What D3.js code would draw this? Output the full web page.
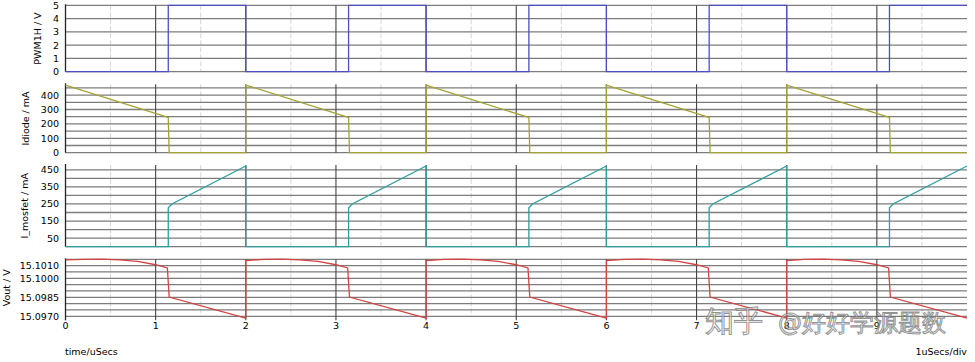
<!DOCTYPE html>
<html>
<head>
<meta charset="utf-8">
<script src="https://cdn.jsdelivr.net/npm/d3@7"></script>
<style>
  body { margin: 0; background: #fff; }
  text { font-family: "DejaVu Sans", sans-serif; fill: #000; }
</style>
</head>
<body>
<div id="chart"></div>
<script>
// time axis, uSecs
const timeTicks = [0, 1, 2, 3, 4, 5, 6, 7, 8, 9]

// PWM1H gate signal (V)
const pwmTime = [0, 1.14, 1.14, 2.0, 2.0, 3.14, 3.14, 4.0, 4.0, 5.14, 5.14, 6.0, 6.0, 7.14, 7.14, 8.0, 8.0, 9.14, 9.14, 10.0]
const pwmVolts = [0, 0, 5, 5, 0, 0, 5, 5, 0, 0, 5, 5, 0, 0, 5, 5, 0, 0, 5, 5]

// diode current (mA)
const diodeTime = [0, 1.12, 1.14, 1.15, 2.0, 2.0, 3.12, 3.14, 3.15, 4.0, 4.0, 5.12, 5.14, 5.15, 6.0, 6.0, 7.12, 7.14, 7.15, 8.0, 8.0, 9.12, 9.14, 9.15, 10.0]
const diodeCurrent = [470, 248, 244, 0, 0, 470, 248, 244, 0, 0, 470, 248, 244, 0, 0, 470, 248, 244, 0, 0, 470, 248, 244, 0, 0]

// mosfet current (mA)
const mosfetTime = [0, 1.14, 1.14, 1.18, 2.0, 2.0, 3.14, 3.14, 3.18, 4.0, 4.0, 5.14, 5.14, 5.18, 6.0, 6.0, 7.14, 7.14, 7.18, 8.0, 8.0, 9.14, 9.14, 9.18, 10.0]
const mosfetCurrent = [0, 0, 228, 250, 472, 0, 0, 228, 250, 472, 0, 0, 228, 250, 472, 0, 0, 228, 250, 472, 0, 0, 228, 250, 472]

// output voltage (V)
const voutTime = [0, 0.2, 0.4, 0.6, 0.8, 1.0, 1.13, 1.15, 2.0,
  2.0, 2.2, 2.4, 2.6, 2.8, 3.0, 3.13, 3.15, 4.0,
  4.0, 4.2, 4.4, 4.6, 4.8, 5.0, 5.13, 5.15, 6.0,
  6.0, 6.2, 6.4, 6.6, 6.8, 7.0, 7.13, 7.15, 8.0,
  8.0, 8.2, 8.4, 8.6, 8.8, 9.0, 9.13, 9.15, 10.0]
const voutVolts = [15.10145, 15.10150, 15.10151, 15.10146, 15.10133, 15.10107, 15.10082, 15.09852, 15.09686,
  15.10140, 15.10150, 15.10151, 15.10146, 15.10133, 15.10107, 15.10082, 15.09852, 15.09686,
  15.10140, 15.10150, 15.10151, 15.10146, 15.10133, 15.10107, 15.10082, 15.09852, 15.09686,
  15.10140, 15.10150, 15.10151, 15.10146, 15.10133, 15.10107, 15.10082, 15.09852, 15.09686,
  15.10140, 15.10150, 15.10151, 15.10146, 15.10133, 15.10107, 15.10082, 15.09852, 15.09686]

const pwmTicks = [0, 1, 2, 3, 4, 5]
const diodeTicks = [0, 100, 200, 300, 400]
const mosfetTicks = [50, 150, 250, 350, 450]
const voutTicks = [15.0970, 15.0985, 15.1000, 15.1010]

const width = 975
const height = 362

const svg = d3.select("#chart").append("svg")
  .attr("width", width)
  .attr("height", height)

const x = d3.scaleLinear().domain([0, 10]).range([65.5, 967])

const panels = [
  { title: "PWM1H / V", t: pwmTime, v: pwmVolts, ticks: pwmTicks, grid: d3.range(0, 5.01, 1),
    domain: [0, 5], range: [71.7, 5.3], color: "#4f4fc4", fmt: d => d, titleX: 38 },
  { title: "Idiode / mA", t: diodeTime, v: diodeCurrent, ticks: diodeTicks, grid: d3.range(0, 451, 50),
    domain: [0, 475], range: [152.7, 84.3], color: "#a3a335", fmt: d => d, titleX: 26 },
  { title: "I_mosfet / mA", t: mosfetTime, v: mosfetCurrent, ticks: mosfetTicks, grid: d3.range(0, 451, 50),
    domain: [0, 478], range: [246.7, 165], color: "#2e9e9e", fmt: d => d, titleX: 25 },
  { title: "Vout / V", t: voutTime, v: voutVolts, ticks: voutTicks, grid: d3.range(15.0970, 15.10151, 0.0005),
    domain: [15.0970, 15.1015], range: [316.3, 259.3], color: "#d24444", fmt: d3.format(".4f"), titleX: 7 }
]

panels.forEach((p, i) => {
  const y = d3.scaleLinear().domain(p.domain).range(p.range)
  const g = svg.append("g")
  const top = p.range[1], bottom = p.range[0]
  const last = i === panels.length - 1

  // minor vertical grid at half divisions
  g.selectAll(".minor")
    .data(d3.range(0.5, 10, 1))
    .join("line")
    .attr("x1", d => x(d)).attr("x2", d => x(d))
    .attr("y1", top).attr("y2", bottom)
    .attr("stroke", "#d6d6d6")
    .style("stroke-dasharray", "5,2")

  // horizontal grid
  g.selectAll(".hgrid")
    .data(p.grid)
    .join("line")
    .attr("x1", x(0)).attr("x2", x(10))
    .attr("y1", d => y(d)).attr("y2", d => y(d))
    .attr("stroke", "#7d7d7d")
    .attr("stroke-width", 1.3)

  // major vertical grid at each division
  g.selectAll(".major")
    .data(d3.range(1, 10, 1))
    .join("line")
    .attr("x1", d => x(d)).attr("x2", d => x(d))
    .attr("y1", top).attr("y2", last ? bottom + 4 : bottom)
    .attr("stroke", "#444")
    .attr("stroke-width", 1.1)

  // left axis
  g.append("line")
    .attr("x1", x(0)).attr("x2", x(0))
    .attr("y1", top - 1).attr("y2", last ? bottom + 4 : bottom)
    .attr("stroke", "#222")
    .attr("stroke-width", 1.3)

  g.selectAll(".tick")
    .data(p.ticks)
    .join("text")
    .attr("x", 59)
    .attr("y", d => y(d))
    .attr("dy", "0.36em")
    .attr("text-anchor", "end")
    .style("font-size", "9.5px")
    .text(p.fmt)

  g.append("text")
    .attr("transform", "translate(" + p.titleX + "," + ((top + bottom) / 2) + ") rotate(-90)")
    .attr("text-anchor", "middle")
    .attr("dy", "0.36em")
    .style("font-size", "9.5px")
    .text(p.title)

  const line = d3.line()
    .x(d => x(d[0]))
    .y(d => y(d[1]))

  g.append("path")
    .datum(d3.zip(p.t, p.v))
    .attr("d", line)
    .attr("fill", "none")
    .attr("stroke", p.color)
    .attr("stroke-width", 1.3)
})

// time axis labels
svg.selectAll(".xlabel")
  .data(timeTicks)
  .join("text")
  .attr("x", d => x(d))
  .attr("y", 329)
  .attr("text-anchor", "middle")
  .style("font-size", "9.5px")
  .text(d => d)

svg.append("text")
  .attr("x", 65)
  .attr("y", 355)
  .style("font-size", "9.5px")
  .text("time/uSecs")

svg.append("text")
  .attr("x", 967)
  .attr("y", 355)
  .attr("text-anchor", "end")
  .style("font-size", "9.5px")
  .text("1uSecs/div")

// watermark
const mark = svg.append("g")
  .style("font-family", "'Noto Sans CJK SC', sans-serif")
  .style("fill", "rgba(255,255,255,0.55)")
  .style("stroke", "rgba(100,100,100,0.7)")
  .style("stroke-width", 1)

mark.append("text")
  .attr("x", 705)
  .attr("y", 331)
  .style("font-size", "29px")
  .style("fill", "rgba(255,255,255,0.55)")
  .text("知乎")

mark.append("text")
  .attr("x", 778)
  .attr("y", 331)
  .style("font-size", "24px")
  .style("fill", "rgba(255,255,255,0.55)")
  .text("@好好学源题数")
</script>
</body>
</html>
